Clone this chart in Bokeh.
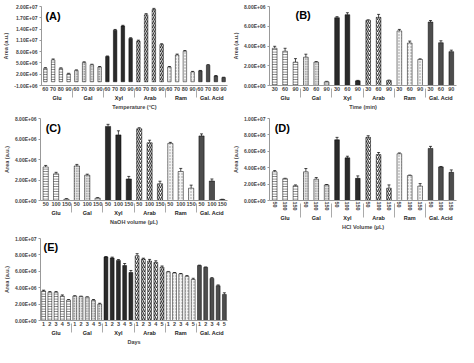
from bokeh.plotting import figure
from bokeh.models import (FactorRange, ColumnDataSource, Whisker, TeeHead, Range1d,
                          FixedTicker, CustomJSTickFormatter)
from bokeh.layouts import column, row
from bokeh.embed import file_html
from bokeh.resources import INLINE
from bokeh.core.properties import value

sugars = ["Glu", "Gal", "Xyl", "Arab", "Ram", "Gal. Acid"]

# (A) Temperature
temp_levels = ["60", "70", "80", "90"]
temp_vals = [[3.55, 5.8, 3.5, 2.1], [3.0, 5.1, 4.5, 3.9], [6.7, 13.7, 14.8, 11.5],
             [10.8, 17.8, 19.2, 9.9], [3.9, 7.1, 8.1, 2.6], [2.9, 4.4, 1.5, 1.1]]
temp_errs = [[0.2, 0.25, 0.2, 0.15], [0.15, 0.2, 0.15, 0.15], [0.15, 0.2, 0.2, 0.2],
             [0.25, 0.3, 0.3, 0.2], [0.15, 0.25, 0.2, 0.15], [0.1, 0.15, 0.15, 0.1]]

# (B) Time
time_levels = ["30", "60", "90"]
time_vals = [[3.77, 3.47, 2.37], [2.87, 2.37, 0.37], [6.87, 7.17, 0.47],
             [6.6, 6.9, 0.5], [5.53, 4.3, 2.63], [6.43, 4.33, 3.43]]
time_errs = [[0.2, 0.3, 0.35], [0.3, 0.05, 0.05], [0.1, 0.2, 0.05],
             [0.05, 0.3, 0.05], [0.15, 0.2, 0.07], [0.15, 0.2, 0.15]]

# (C) NaOH volume
naoh_levels = ["50", "100", "150"]
naoh_vals = [[3.27, 2.6, 0.13], [3.37, 2.47, 0.23], [7.23, 6.4, 2.1],
             [7.0, 5.63, 1.63], [5.57, 2.83, 1.2], [6.3, 1.9, 0.1]]
naoh_errs = [[0.15, 0.15, 0.05], [0.15, 0.1, 0.05], [0.2, 0.4, 0.25],
             [0.1, 0.25, 0.25], [0.1, 0.3, 0.3], [0.2, 0.2, 0.02]]

# (D) HCl volume
hcl_levels = ["50", "100", "150"]
hcl_vals = [[3.5, 2.66, 1.8], [3.5, 2.6, 1.9], [7.4, 5.2, 2.7],
            [7.7, 5.6, 1.5], [5.7, 3.05, 1.76], [6.35, 4.1, 3.43]]
hcl_errs = [[0.15, 0.05, 0.1], [0.4, 0.2, 0.05], [0.3, 0.2, 0.3],
            [0.2, 0.25, 0.4], [0.1, 0.05, 0.3], [0.25, 0.05, 0.3]]

# (E) Days
day_levels = ["1", "2", "3", "4", "5"]
day_vals = [[3.6, 3.43, 3.43, 2.97, 2.5], [2.97, 2.92, 2.84, 2.46, 2.0],
            [7.75, 7.63, 7.33, 6.7, 5.85], [7.9, 7.5, 7.25, 7.08, 6.5],
            [5.93, 5.8, 5.68, 5.38, 5.0], [6.7, 6.48, 5.13, 4.24, 3.18]]
day_errs = [[0.1, 0.1, 0.1, 0.15, 0.05], [0.05, 0.05, 0.05, 0.1, 0.1],
            [0.05, 0.1, 0.1, 0.25, 0.25], [0.25, 0.1, 0.2, 0.2, 0.15],
            [0.05, 0.05, 0.05, 0.1, 0.15], [0.05, 0.05, 0.1, 0.1, 0.2]]

FONT = "Liberation Sans"

styles = {
    "Glu": dict(fill_color="white", hatch_pattern="horizontal_line", hatch_color="#555",
                hatch_scale=2.5, hatch_weight=0.8),
    "Gal": dict(fill_color="#e6e6e6", hatch_pattern="dot", hatch_color="#555",
                hatch_scale=2.5, hatch_weight=1),
    "Xyl": dict(fill_color="#2a2a2a"),
    "Arab": dict(fill_color="white", hatch_pattern="right_diagonal_line", hatch_color="#333",
                 hatch_scale=4, hatch_weight=1.1),
    "Ram": dict(fill_color="#f4f4f4", hatch_pattern="dot", hatch_color="#999",
                hatch_scale=3, hatch_weight=1),
    "Gal. Acid": dict(fill_color="#4d4d4d"),
}

fmt = CustomJSTickFormatter(code="""
const s = tick.toExponential(2).toUpperCase();
const m = s.split("E");
let e = parseInt(m[1]);
const sign = e < 0 ? "-" : "+";
e = Math.abs(e);
return m[0] + "E" + sign + (e < 10 ? "0" + e : "" + e);
""")


def panel(levels, vals, errs, y0, y1, step, tag, tag_x, tag_y, xtitle, w, h, bw,
          rot=False, border_top=3):
    factors = [(s, l) for s in sugars for l in levels]
    p = figure(x_range=FactorRange(*factors, group_padding=0, range_padding=0),
               y_range=Range1d(y0, y1), width=w, height=h, output_backend="svg",
               toolbar_location=None, min_border_left=0, min_border_right=2,
               min_border_top=border_top, min_border_bottom=0)
    for s, v, e in zip(sugars, vals, errs):
        xs = [(s, l) for l in levels]
        src = ColumnDataSource(dict(x=xs, top=[a * 1e6 for a in v],
                                    up=[(a + b) * 1e6 for a, b in zip(v, e)]))
        p.vbar(x="x", top="top", bottom=0, width=bw, source=src, line_color="black",
               line_width=0.5, **styles[s])
        p.add_layout(Whisker(source=src, base="x", lower="top", upper="up",
                             line_color="black", line_width=0.7,
                             upper_head=TeeHead(size=3, line_width=0.7, line_color="black"),
                             lower_head=None))
    p.text(x=[tag_x], y=[tag_y], text=[tag], text_font=value(FONT),
           text_font_style="bold", text_font_size="11px", text_baseline="top",
           text_align="left", text_color="black")
    p.xgrid.visible = False
    p.ygrid.visible = False
    p.outline_line_color = None
    p.background_fill_color = "white"
    ticks = []
    t = y0
    while t <= y1 + 1:
        ticks.append(t)
        t += step
    ya = p.yaxis[0]
    ya.ticker = FixedTicker(ticks=ticks)
    ya.formatter = fmt
    ya.axis_label = "Area (a.u.)"
    ya.axis_label_text_font = FONT
    ya.axis_label_text_font_size = "5.5px"
    ya.axis_label_text_font_style = "bold"
    ya.axis_label_standoff = 2
    ya.major_label_text_font = FONT
    ya.major_label_text_font_size = "5px"
    ya.major_label_text_font_style = "bold"
    ya.major_label_standoff = 2
    ya.axis_line_color = "#999"
    ya.major_tick_line_color = "#999"
    ya.major_tick_out = 2
    ya.major_tick_in = 0
    ya.minor_tick_line_color = None
    xa = p.xaxis[0]
    xa.axis_label = xtitle
    xa.axis_label_text_font = FONT
    xa.axis_label_text_font_size = "5.5px"
    xa.axis_label_text_font_style = "bold"
    xa.axis_label_standoff = 0
    xa.major_label_text_font = FONT
    xa.major_label_text_font_size = "5.5px"
    xa.major_label_text_font_style = "bold"
    xa.major_label_standoff = 1
    xa.group_text_font = FONT
    xa.group_text_font_size = "5.5px"
    xa.group_text_font_style = "bold"
    xa.group_text_color = "#222"
    xa.separator_line_color = "#aaa"
    xa.separator_line_width = 1
    xa.axis_line_color = "#999"
    xa.major_tick_line_color = None
    xa.major_tick_out = 0
    xa.minor_tick_line_color = None
    if rot:
        xa.major_label_orientation = "vertical"
    return p


pA = panel(temp_levels, temp_vals, temp_errs, -1e6, 2e7, 3e6, "(A)", ("Glu", "60"), 1.9e7,
           "Temperature (°C)", 229, 112, 0.45)
pB = panel(time_levels, time_vals, time_errs, 0, 8e6, 2e6, "(B)", ("Glu", "90"), 7.7e6,
           "Time (min)", 229, 112, 0.45, border_top=6)
pC = panel(naoh_levels, naoh_vals, naoh_errs, 0, 8e6, 2e6, "(C)", ("Glu", "50"), 7.7e6,
           "NaOH volume (µL)", 229, 120, 0.5, border_top=6)
pD = panel(hcl_levels, hcl_vals, hcl_errs, 0, 1e7, 2e6, "(D)", ("Glu", "50"), 9.6e6,
           "HCl Volume (µL)", 229, 120, 0.45, rot=True, border_top=6)
pE = panel(day_levels, day_vals, day_errs, 0, 1e7, 2e6, "(E)", ("Glu", "1"), 9.7e6,
           "Days", 229, 115, 0.62, border_top=6)

layout = column(row(pA, pB), row(pC, pD), pE)
open("out.html", "w").write(file_html(layout, INLINE))
